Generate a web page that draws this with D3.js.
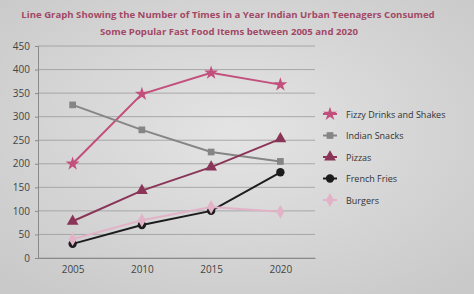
<!DOCTYPE html>
<html>
<head>
<meta charset="utf-8">
<script src="https://cdn.jsdelivr.net/npm/d3@7"></script>
<style>
body { margin: 0; background: #d6d6d6; }
text { font-family: "Open Sans", "DejaVu Sans", sans-serif; }
</style>
</head>
<body>
<div id="chart"></div>
<script>
var width = 474;
var height = 294;

// data
var years = ["2005", "2010", "2015", "2020"];
var seriesNames = ["Fizzy Drinks and Shakes", "Indian Snacks", "Pizzas", "French Fries", "Burgers"];
var fizzy = [200, 348, 393, 368];
var snacks = [325, 272, 225, 205];
var pizzas = [78, 143, 193, 253];
var fries = [30, 70, 100, 182];
var burgers = [40, 80, 108, 98];
var yTicks = [0, 50, 100, 150, 200, 250, 300, 350, 400, 450];

var seriesValues = [fizzy, snacks, pizzas, fries, burgers];
var colors = ["#c24f7c", "#858585", "#8a3558", "#1c1c1c", "#e2b3c6"];
var symbols = [d3.symbolStar, d3.symbolSquare, d3.symbolTriangle, d3.symbolCircle, d3.symbolDiamond];
var symSizes = [60, 45, 60, 55, 55];

var svg = d3.select("#chart")
	.append("svg")
	.attr("width", width)
	.attr("height", height);

// paper background, slightly darker at the edges like the photo
var defs = svg.append("defs");
var grad = defs.append("radialGradient").attr("id", "paper")
	.attr("cx", "50%").attr("cy", "45%").attr("r", "70%");
grad.append("stop").attr("offset", "0%").attr("stop-color", "#e4e4e4");
grad.append("stop").attr("offset", "100%").attr("stop-color", "#c9c9c9");
svg.append("rect").attr("width", width).attr("height", height).attr("fill", "url(#paper)");

//Title
svg.append("text")
	.attr("x", 228).attr("y", 18)
	.attr("text-anchor", "middle")
	.style("font-size", "9.6px").style("font-weight", "bold")
	.style("fill", "#a24866")
	.text("Line Graph Showing the Number of Times in a Year Indian Urban Teenagers Consumed");
svg.append("text")
	.attr("x", 229).attr("y", 35)
	.attr("text-anchor", "middle")
	.style("font-size", "9.6px").style("font-weight", "bold")
	.style("fill", "#a24866")
	.text("Some Popular Fast Food Items between 2005 and 2020");

var plotLeft = 38, plotRight = 315, plotTop = 46, plotBottom = 258;

var x = d3.scalePoint().domain(years).range([plotLeft, plotRight]).padding(0.5);
var y = d3.scaleLinear().domain([0, 450]).range([plotBottom, plotTop]);

// gridlines
svg.append("g")
	.selectAll("line")
	.data(yTicks)
	.enter().append("line")
	.attr("x1", plotLeft).attr("x2", plotRight)
	.attr("y1", function(d) { return y(d); })
	.attr("y2", function(d) { return y(d); })
	.attr("stroke", "#9a9a9a")
	.attr("stroke-width", 0.8);

// y axis
var yAxis = svg.append("g")
	.attr("transform", "translate(" + plotLeft + ",0)")
	.call(d3.axisLeft(y).tickValues(yTicks).tickSize(3).tickPadding(5));
yAxis.selectAll("text").style("font-size", "10px").style("fill", "#444");
yAxis.selectAll("line, path").attr("stroke", "#8a8a8a");

// x axis
var xAxis = svg.append("g")
	.attr("transform", "translate(0," + plotBottom + ")")
	.call(d3.axisBottom(x).tickSize(0).tickPadding(8));
xAxis.selectAll("text").style("font-size", "10px").style("fill", "#444");
xAxis.select("path").attr("stroke", "#8a8a8a");

// lines
var line = d3.line()
	.x(function(d, i) { return x(years[i]); })
	.y(function(d) { return y(d); });

seriesValues.forEach(function(vals, s) {
	svg.append("path")
		.datum(vals)
		.attr("fill", "none")
		.attr("stroke", colors[s])
		.attr("stroke-width", 2)
		.attr("d", line);
	svg.append("g")
		.selectAll("path")
		.data(vals)
		.enter().append("path")
		.attr("transform", function(d, i) { return "translate(" + x(years[i]) + "," + y(d) + ")"; })
		.attr("d", d3.symbol().type(symbols[s]).size(symSizes[s]))
		.attr("fill", colors[s]);
});

// legend
var legend = svg.append("g")
	.selectAll("g")
	.data(seriesNames)
	.enter().append("g")
	.attr("transform", function(d, i) { return "translate(330," + (114 + i * 21.5) + ")"; });

legend.append("line")
	.attr("x1", -7).attr("x2", 7)
	.attr("stroke", function(d, i) { return colors[i]; })
	.attr("stroke-width", 2);
legend.append("path")
	.attr("d", function(d, i) { return d3.symbol().type(symbols[i]).size(symSizes[i])(); })
	.attr("fill", function(d, i) { return colors[i]; });
legend.append("text")
	.attr("x", 16).attr("y", 3.5)
	.style("font-size", "9px")
	.style("fill", "#333")
	.text(function(d) { return d; });
</script>
</body>
</html>
